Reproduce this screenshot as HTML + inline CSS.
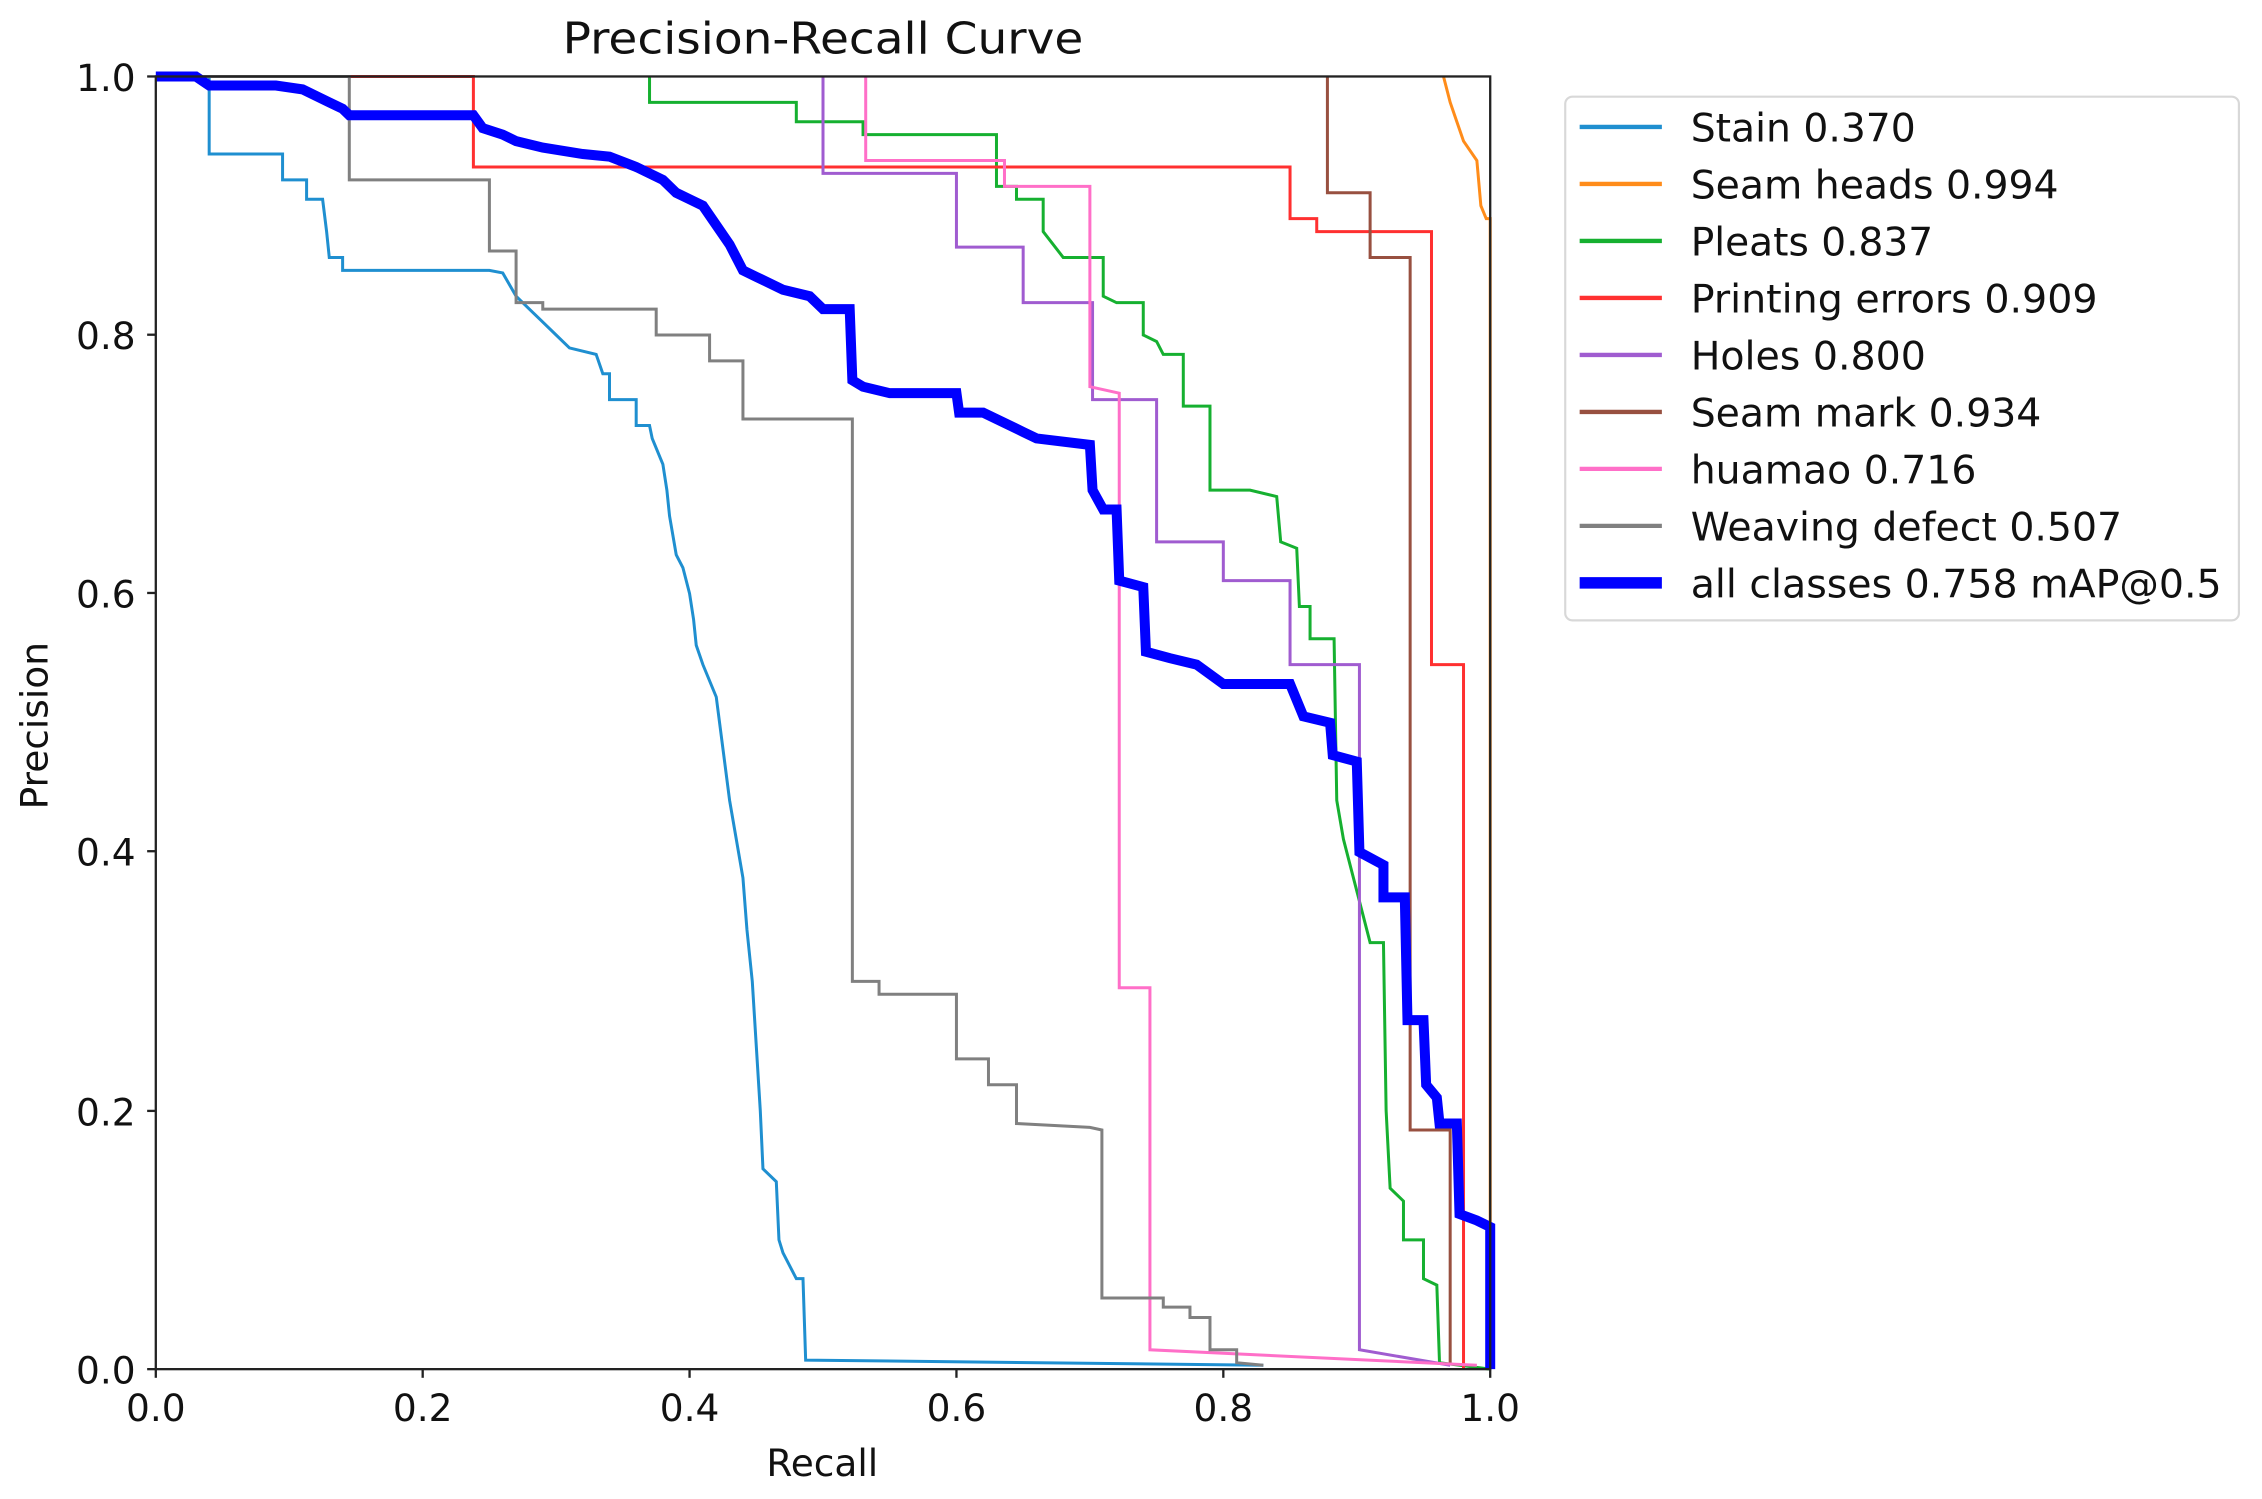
<!DOCTYPE html>
<html><head><meta charset="utf-8"><style>
html,body{margin:0;padding:0;background:#fff;}
svg{display:block;}
text{font-family:"DejaVu Sans","Liberation Sans",sans-serif;fill:#111;}
.s{fill:none;stroke-width:3;stroke-linejoin:miter;vector-effect:non-scaling-stroke;}
</style></head><body>
<svg width="2262" height="1499" viewBox="0 0 1568 1039" preserveAspectRatio="none" xmlns="http://www.w3.org/2000/svg">
<rect width="1568" height="1039" fill="#fff"/>
<text x="390" y="37" font-size="30" textLength="361" lengthAdjust="spacingAndGlyphs">Precision-Recall Curve</text>
<g transform="translate(108,949) scale(925,-896)">
<polyline class="s" stroke="#1f8fd0" points="0,1 0.04,1 0.04,0.94 0.095,0.94 0.095,0.92 0.113,0.92 0.113,0.905 0.125,0.905 0.128,0.88 0.13,0.86 0.14,0.86 0.14,0.85 0.25,0.85 0.26,0.848 0.27,0.83 0.28,0.82 0.29,0.81 0.3,0.80 0.31,0.79 0.33,0.785 0.335,0.77 0.34,0.77 0.34,0.75 0.36,0.75 0.36,0.73 0.37,0.73 0.372,0.72 0.38,0.70 0.383,0.68 0.385,0.66 0.39,0.63 0.395,0.62 0.40,0.60 0.403,0.58 0.405,0.56 0.41,0.545 0.42,0.52 0.425,0.48 0.43,0.44 0.435,0.41 0.44,0.38 0.443,0.34 0.447,0.30 0.45,0.25 0.453,0.2 0.455,0.155 0.465,0.145 0.467,0.1 0.47,0.09 0.48,0.07 0.485,0.07 0.487,0.007 0.83,0.003"/>
<polyline class="s" stroke="#ff8c1a" points="0.965,1 0.97,0.98 0.975,0.965 0.98,0.95 0.99,0.935 0.993,0.9 0.997,0.89 1,0.89 1,0"/>
<polyline class="s" stroke="#16b030" points="0.37,1 0.37,0.98 0.48,0.98 0.48,0.965 0.53,0.965 0.53,0.955 0.63,0.955 0.63,0.915 0.645,0.915 0.645,0.905 0.665,0.905 0.665,0.88 0.68,0.86 0.71,0.86 0.71,0.83 0.72,0.825 0.74,0.825 0.74,0.80 0.75,0.795 0.755,0.785 0.77,0.785 0.77,0.745 0.79,0.745 0.79,0.68 0.82,0.68 0.84,0.675 0.843,0.64 0.855,0.635 0.857,0.59 0.865,0.59 0.865,0.565 0.883,0.565 0.885,0.44 0.89,0.41 0.9,0.37 0.91,0.33 0.92,0.33 0.922,0.2 0.925,0.14 0.935,0.13 0.935,0.1 0.95,0.1 0.95,0.07 0.96,0.065 0.962,0.005 1,0"/>
<polyline class="s" stroke="#ff3030" points="0,1 0.238,1 0.238,0.93 0.85,0.93 0.85,0.89 0.87,0.89 0.87,0.88 0.956,0.88 0.956,0.545 0.98,0.545 0.98,0"/>
<polyline class="s" stroke="#a05cd0" points="0.5,1 0.5,0.925 0.6,0.925 0.6,0.868 0.65,0.868 0.65,0.825 0.702,0.825 0.702,0.75 0.75,0.75 0.75,0.64 0.8,0.64 0.8,0.61 0.85,0.61 0.85,0.545 0.902,0.545 0.902,0.015 0.97,0.003"/>
<polyline class="s" stroke="#985040" points="0.878,1 0.878,0.91 0.91,0.91 0.91,0.86 0.94,0.86 0.94,0.185 0.97,0.185 0.97,0.005"/>
<polyline class="s" stroke="#ff6fc8" points="0.532,1 0.532,0.935 0.636,0.935 0.636,0.915 0.7,0.915 0.7,0.76 0.722,0.755 0.722,0.295 0.745,0.295 0.745,0.015 0.99,0.003"/>
<polyline class="s" stroke="#808080" points="0,1 0.145,1 0.145,0.92 0.25,0.92 0.25,0.865 0.27,0.865 0.27,0.825 0.29,0.825 0.29,0.82 0.375,0.82 0.375,0.80 0.415,0.80 0.415,0.78 0.44,0.78 0.44,0.735 0.522,0.735 0.522,0.30 0.542,0.30 0.542,0.29 0.6,0.29 0.6,0.24 0.624,0.24 0.624,0.22 0.645,0.22 0.645,0.19 0.7,0.187 0.709,0.185 0.709,0.055 0.755,0.055 0.755,0.048 0.775,0.048 0.775,0.04 0.79,0.04 0.79,0.015 0.81,0.015 0.81,0.005 0.83,0.003"/>
<polyline class="s" style="stroke-width:10" stroke="#0000ff" points="0,1 0.03,1 0.04,0.993 0.09,0.993 0.11,0.99 0.12,0.985 0.13,0.98 0.14,0.975 0.145,0.97 0.238,0.97 0.245,0.96 0.26,0.955 0.27,0.95 0.29,0.945 0.32,0.94 0.34,0.938 0.36,0.93 0.38,0.92 0.39,0.91 0.40,0.905 0.41,0.9 0.42,0.885 0.43,0.87 0.44,0.85 0.45,0.845 0.47,0.835 0.49,0.83 0.5,0.82 0.52,0.82 0.522,0.765 0.53,0.76 0.55,0.755 0.6,0.755 0.602,0.74 0.62,0.74 0.65,0.725 0.66,0.72 0.7,0.715 0.702,0.68 0.71,0.665 0.72,0.665 0.722,0.61 0.74,0.605 0.742,0.555 0.76,0.55 0.78,0.545 0.8,0.53 0.85,0.53 0.86,0.505 0.88,0.5 0.882,0.475 0.9,0.47 0.902,0.4 0.92,0.39 0.92,0.365 0.936,0.365 0.938,0.27 0.95,0.27 0.952,0.22 0.96,0.21 0.962,0.19 0.975,0.19 0.977,0.12 0.99,0.115 1,0.11 1,0"/>
</g>
<rect x="108" y="53" width="925" height="896" fill="none" stroke="#222" stroke-width="1.6"/>
<g stroke="#222" stroke-width="1.6">
<line x1="108" y1="949" x2="108" y2="955"/><line x1="293" y1="949" x2="293" y2="955"/><line x1="478" y1="949" x2="478" y2="955"/><line x1="663" y1="949" x2="663" y2="955"/><line x1="848" y1="949" x2="848" y2="955"/><line x1="1033" y1="949" x2="1033" y2="955"/>
<line x1="102" y1="949" x2="108" y2="949"/><line x1="102" y1="770" x2="108" y2="770"/><line x1="102" y1="590" x2="108" y2="590"/><line x1="102" y1="411" x2="108" y2="411"/><line x1="102" y1="232" x2="108" y2="232"/><line x1="102" y1="53" x2="108" y2="53"/>
</g>
<g font-size="26" text-anchor="middle">
<text x="108" y="985">0.0</text><text x="293" y="985">0.2</text><text x="478" y="985">0.4</text><text x="663" y="985">0.6</text><text x="848" y="985">0.8</text><text x="1033" y="985">1.0</text>
</g>
<g font-size="26" text-anchor="end">
<text x="94" y="959">0.0</text><text x="94" y="780">0.2</text><text x="94" y="600">0.4</text><text x="94" y="421">0.6</text><text x="94" y="242">0.8</text><text x="94" y="63">1.0</text>
</g>
<text x="570" y="1023" font-size="26" text-anchor="middle">Recall</text>
<text transform="translate(33,503) rotate(-90)" font-size="26" text-anchor="middle">Precision</text>
<rect x="1085" y="67" width="467" height="363" rx="5" fill="#fff" stroke="#d8d8d8" stroke-width="1.5"/>
<g stroke-width="3">
<line x1="1095" y1="88" x2="1152" y2="88" stroke="#1f8fd0"/>
<line x1="1095" y1="127.5" x2="1152" y2="127.5" stroke="#ff8c1a"/>
<line x1="1095" y1="167" x2="1152" y2="167" stroke="#16b030"/>
<line x1="1095" y1="206.5" x2="1152" y2="206.5" stroke="#ff3030"/>
<line x1="1095" y1="246" x2="1152" y2="246" stroke="#a05cd0"/>
<line x1="1095" y1="285.5" x2="1152" y2="285.5" stroke="#985040"/>
<line x1="1095" y1="325" x2="1152" y2="325" stroke="#ff6fc8"/>
<line x1="1095" y1="364.5" x2="1152" y2="364.5" stroke="#808080"/>
<line x1="1095" y1="404" x2="1152" y2="404" stroke="#0000ff" stroke-width="8"/>
</g>
<g font-size="27" lengthAdjust="spacingAndGlyphs">
<text x="1172" y="98" textLength="156" lengthAdjust="spacingAndGlyphs">Stain 0.370</text>
<text x="1172" y="137.5" textLength="255" lengthAdjust="spacingAndGlyphs">Seam heads 0.994</text>
<text x="1172" y="177" textLength="168" lengthAdjust="spacingAndGlyphs">Pleats 0.837</text>
<text x="1172" y="216.5" textLength="282" lengthAdjust="spacingAndGlyphs">Printing errors 0.909</text>
<text x="1172" y="256" textLength="163" lengthAdjust="spacingAndGlyphs">Holes 0.800</text>
<text x="1172" y="295.5" textLength="243" lengthAdjust="spacingAndGlyphs">Seam mark 0.934</text>
<text x="1172" y="335" textLength="198" lengthAdjust="spacingAndGlyphs">huamao 0.716</text>
<text x="1172" y="374.5" textLength="299" lengthAdjust="spacingAndGlyphs">Weaving defect 0.507</text>
<text x="1172" y="414" textLength="368" lengthAdjust="spacingAndGlyphs">all classes 0.758 mAP@0.5</text>
</g>
</svg>
</body></html>
